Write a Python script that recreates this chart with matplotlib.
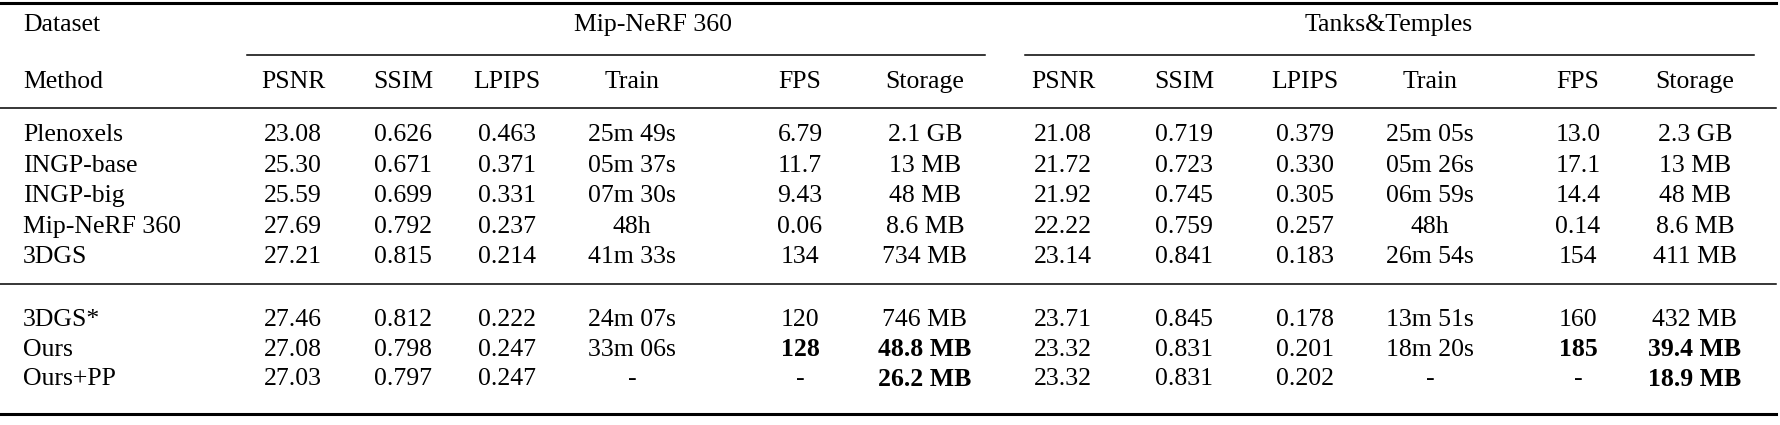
import matplotlib
matplotlib.use("Agg")
import matplotlib.pyplot as plt

methods = ["Plenoxels", "INGP-base", "INGP-big", "Mip-NeRF 360", "3DGS",
           "3DGS*", "Ours", "Ours+PP"]
metrics = ["PSNR", "SSIM", "LPIPS", "Train", "FPS", "Storage"]
mip = [
    ["23.08", "0.626", "0.463", "25m 49s", "6.79", "2.1 GB"],
    ["25.30", "0.671", "0.371", "05m 37s", "11.7", "13 MB"],
    ["25.59", "0.699", "0.331", "07m 30s", "9.43", "48 MB"],
    ["27.69", "0.792", "0.237", "48h", "0.06", "8.6 MB"],
    ["27.21", "0.815", "0.214", "41m 33s", "134", "734 MB"],
    ["27.46", "0.812", "0.222", "24m 07s", "120", "746 MB"],
    ["27.08", "0.798", "0.247", "33m 06s", "128", "48.8 MB"],
    ["27.03", "0.797", "0.247", "-", "-", "26.2 MB"],
]
tnt = [
    ["21.08", "0.719", "0.379", "25m 05s", "13.0", "2.3 GB"],
    ["21.72", "0.723", "0.330", "05m 26s", "17.1", "13 MB"],
    ["21.92", "0.745", "0.305", "06m 59s", "14.4", "48 MB"],
    ["22.22", "0.759", "0.257", "48h", "0.14", "8.6 MB"],
    ["23.14", "0.841", "0.183", "26m 54s", "154", "411 MB"],
    ["23.71", "0.845", "0.178", "13m 51s", "160", "432 MB"],
    ["23.32", "0.831", "0.201", "18m 20s", "185", "39.4 MB"],
    ["23.32", "0.831", "0.202", "-", "-", "18.9 MB"],
]
# (row, column) cells in bold
bold_mip = {(6, 4), (6, 5), (7, 5)}
bold_tnt = {(6, 4), (6, 5), (7, 5)}

plt.rcParams['font.family'] = ['Liberation Serif', 'DejaVu Serif']
fig = plt.figure(figsize=(17.8, 4.25), dpi=100)
ax = fig.add_axes([0, 0, 1, 1])
ax.set_xlim(0, 1780)
ax.set_ylim(425, 0)
ax.axis("off")

fs = 18.5
mip_x = [293, 403, 507, 632, 800, 925]
tnt_x = [1063, 1184, 1305, 1430, 1578, 1695]
row_y = [135, 166, 196, 227, 257, 320, 350, 379]

ax.text(23, 25, "Dataset", fontsize=fs, va="center")
ax.text(653, 25, "Mip-NeRF 360", fontsize=fs, va="center", ha="center")
ax.text(1389, 25, "Tanks&Temples", fontsize=fs, va="center", ha="center")
ax.text(23, 82, "Method", fontsize=fs, va="center")
for xs in (mip_x, tnt_x):
    for x, m in zip(xs, metrics):
        ax.text(x, 82, m, fontsize=fs, va="center", ha="center")

ax.plot([0, 1776], [3, 3], color="black", lw=2.2)
ax.plot([247, 985], [55, 55], color="black", lw=1.1)
ax.plot([1025, 1754], [55, 55], color="black", lw=1.1)
ax.plot([0, 1776], [108, 108], color="black", lw=1.1)
ax.plot([0, 1776], [284, 284], color="black", lw=1.1)
ax.plot([0, 1776], [414, 414], color="black", lw=2.2)

for i, name in enumerate(methods):
    y = row_y[i]
    ax.text(23, y, name, fontsize=fs, va="center")
    for xs, data, bold in ((mip_x, mip, bold_mip), (tnt_x, tnt, bold_tnt)):
        for j, x in enumerate(xs):
            w = "bold" if (i, j) in bold else "normal"
            ax.text(x, y, data[i][j], fontsize=fs, va="center", ha="center",
                    fontweight=w)

fig.savefig("out.png", dpi=100)
